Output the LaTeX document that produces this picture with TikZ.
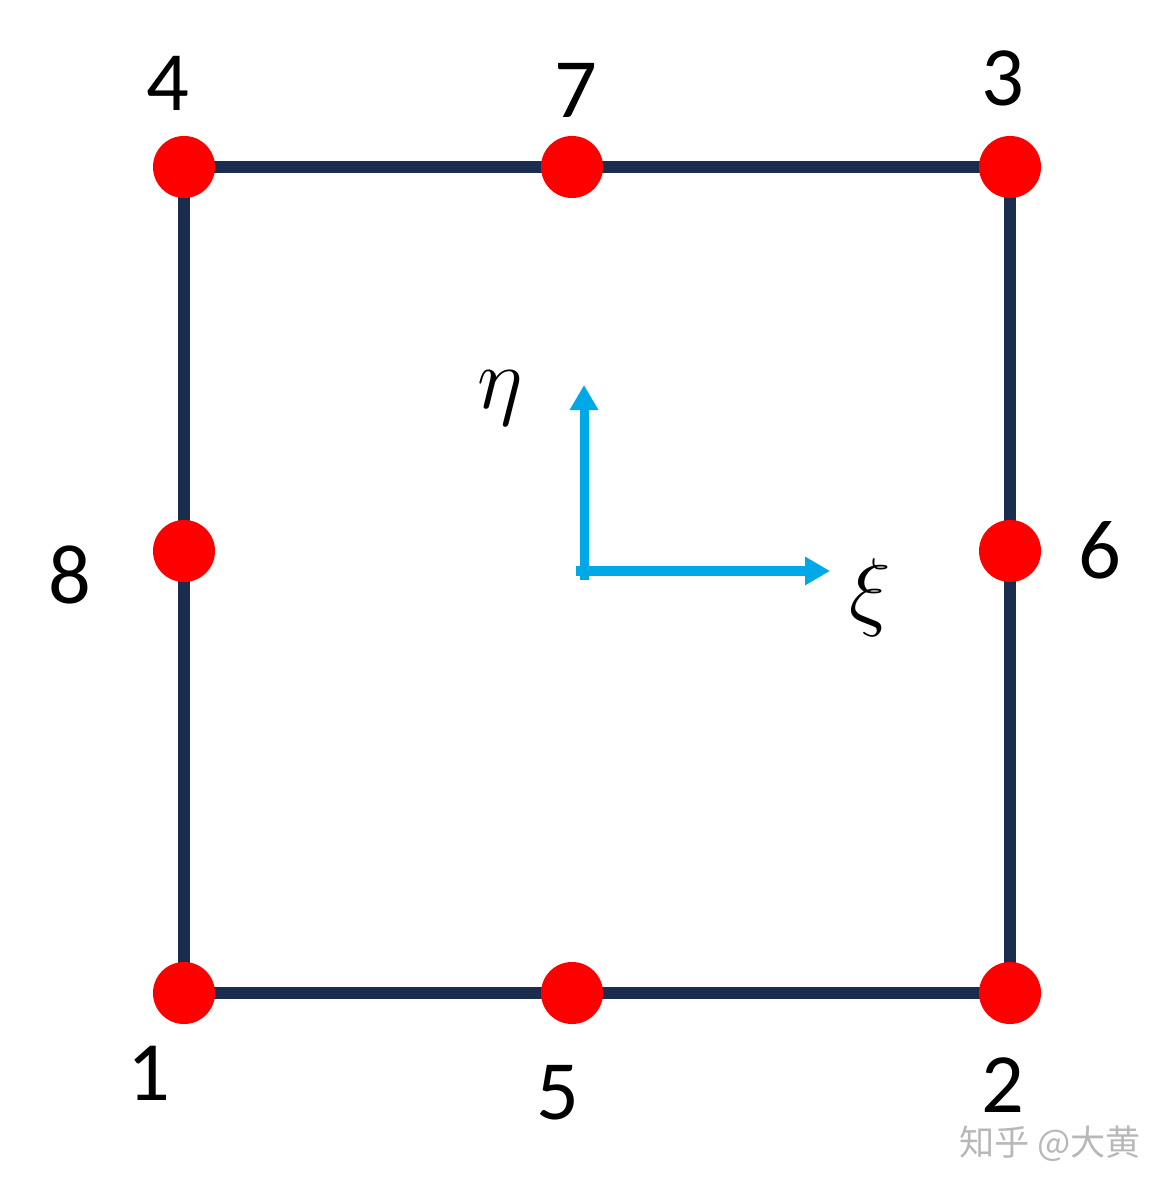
\documentclass[tikz,border=0pt]{standalone}
\usepackage{fontspec}
\setmainfont{Carlito}
\newfontfamily\cjkfont{Noto Sans CJK SC}
\usetikzlibrary{arrows.meta,backgrounds}

\definecolor{edgeblue}{HTML}{1B2D4F}
\definecolor{axisblue}{HTML}{00A8E8}
\definecolor{markgray}{HTML}{B8B8B8}

\tikzset{
  nodedot/.style={circle,fill=red,inner sep=0pt,minimum size=0.62cm},
  edgeline/.style={draw=edgeblue,line width=0.12cm},
  axisline/.style={draw=axisblue,line width=0.09cm,
    -{Triangle[length=0.25cm,width=0.27cm]}},
  numlabel/.style={inner sep=0pt,font=\fontsize{24}{28}\selectfont},
  greeklabel/.style={inner sep=0pt,font=\fontsize{25}{30}\selectfont}
}

\begin{document}
\begin{tikzpicture}[x=0.01cm,y=-0.01cm]

    \useasboundingbox (0,0) rectangle (1172,1189);

    % corner and mid-side nodes
    \node[nodedot] (N1) at (184,993) {};
    \node[nodedot] (N2) at (1010,993) {};
    \node[nodedot] (N3) at (1010,167) {};
    \node[nodedot] (N4) at (184,167) {};
    \node[nodedot] (N5) at (572,993) {};
    \node[nodedot] (N6) at (1010,551) {};
    \node[nodedot] (N7) at (572,167) {};
    \node[nodedot] (N8) at (184,551) {};

    % element edges
    \begin{scope}[on background layer]
    \path[edgeline] (N1.center) -- (N5.center);
    \path[edgeline] (N5.center) -- (N2.center);
    \path[edgeline] (N2.center) -- (N6.center);
    \path[edgeline] (N6.center) -- (N3.center);
    \path[edgeline] (N3.center) -- (N7.center);
    \path[edgeline] (N7.center) -- (N4.center);
    \path[edgeline] (N4.center) -- (N8.center);
    \path[edgeline] (N8.center) -- (N1.center);
    \end{scope}

    % node numbers
    \node[numlabel] (N1Label) at (149,1073) {1};
    \node[numlabel] (N2Label) at (1003,1085) {2};
    \node[numlabel] (N3Label) at (1003,78) {3};
    \node[numlabel] (N4Label) at (168,83) {4};
    \node[numlabel] (N5Label) at (558,1093) {5};
    \node[numlabel] (N6Label) at (1100,550) {6};
    \node[numlabel] (N7Label) at (576,90) {7};
    \node[numlabel] (N8Label) at (70,575) {8};

    % natural coordinates
    \coordinate (XiStart) at (576,571);
    \coordinate (XiEnd) at (830,571);
    \coordinate (EtaStart) at (584,580);
    \coordinate (EtaEnd) at (584,385);
    \path[axisline] (XiStart) -- (XiEnd);
    \path[axisline] (EtaStart) -- (EtaEnd);

    \node[greeklabel] (XiLabel) at (870,598) {$\xi$};
    \node[greeklabel] (EtaLabel) at (500,398) {$\eta$};

    \node[inner sep=0pt,text=markgray,font=\cjkfont\fontsize{10}{12}\selectfont] (Mark) at (1050,1144) {知乎 @大黄};

\end{tikzpicture}
\end{document}
